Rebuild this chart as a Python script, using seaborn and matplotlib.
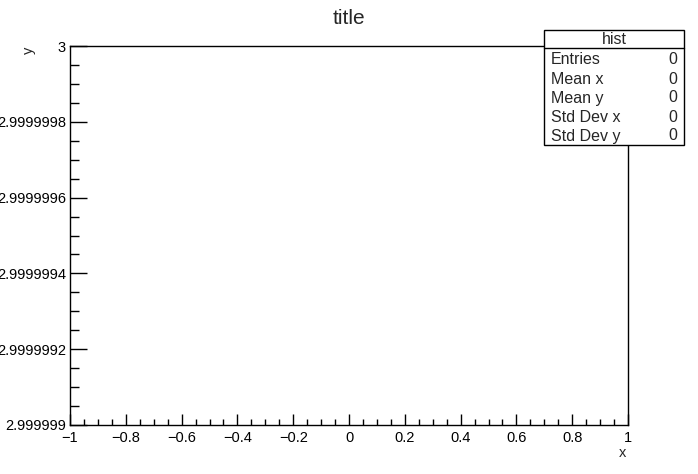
import matplotlib
matplotlib.use("Agg")
import matplotlib.pyplot as plt
import numpy as np
import pandas as pd
import seaborn as sns
from matplotlib.patches import Rectangle
from matplotlib.lines import Line2D
from matplotlib.ticker import FixedLocator, FixedFormatter, MultipleLocator

# empty histogram, as in the reference
x_values = []
y_values = []

x_range = (-1, 1)
x_major = [-1, -0.8, -0.6, -0.4, -0.2, 0, 0.2, 0.4, 0.6, 0.8, 1]
x_labels = ["\u22121", "\u22120.8", "\u22120.6", "\u22120.4", "\u22120.2", "0",
            "0.2", "0.4", "0.6", "0.8", "1"]

y_range = (2.999999, 3.0)
y_major = [2.999999, 2.9999992, 2.9999994, 2.9999996, 2.9999998, 3.0]
y_labels = ["2.999999", "2.9999992", "2.9999994", "2.9999996", "2.9999998", "3"]

stat_names = ["Entries", "Mean x", "Mean y", "Std Dev x", "Std Dev y"]
stat_values = ["0", "0", "0", "0", "0"]

sns.set_style("ticks")
plt.rcParams["font.family"] = ["Liberation Sans", "DejaVu Sans"]

W, H = 698, 474
px = 72 / 100  # pixels -> points

fig = plt.figure(figsize=(W / 100, H / 100), dpi=100)
ax = fig.add_axes([70 / W, 1 - 425 / H, 558 / W, 379 / H])

df = pd.DataFrame({"x": pd.Series(x_values, dtype=float),
                   "y": pd.Series(y_values, dtype=float)})
sns.histplot(data=df, x="x", ax=ax)

ax.set_xlim(*x_range)
ax.set_ylim(*y_range)

ax.xaxis.set_major_locator(FixedLocator(x_major))
ax.xaxis.set_major_formatter(FixedFormatter(x_labels))
ax.xaxis.set_minor_locator(MultipleLocator(0.05))
ax.yaxis.set_major_locator(FixedLocator(y_major))
ax.yaxis.set_major_formatter(FixedFormatter(y_labels))
ax.yaxis.set_minor_locator(FixedLocator(list(np.linspace(y_range[0], y_range[1], 21))))

ax.tick_params(axis="both", which="both", direction="in", color="black",
               labelsize=10.5, labelcolor="black", width=1)
ax.tick_params(axis="x", which="major", length=11 * px, pad=4.5)
ax.tick_params(axis="x", which="minor", length=6 * px)
ax.tick_params(axis="y", which="major", length=17 * px, pad=3)
ax.tick_params(axis="y", which="minor", length=9 * px)

for s in ax.spines.values():
    s.set_visible(True)
    s.set_color("black")
    s.set_linewidth(1)

ax.set_xlabel("")
ax.set_ylabel("")
fig.text(623 / W, 1 - 453 / H, "x", ha="center", va="center", fontsize=10.5)
fig.text(29 / W, 1 - 50 / H, "y", ha="center", va="center", fontsize=10.5, rotation=90)
fig.text(349 / W, 1 - 18 / H, "title", ha="center", va="center", fontsize=15)

# stats box
bx0, bx1, by0, by1 = 544, 684, 30, 145
fig.patches.append(Rectangle((bx0 / W, 1 - by1 / H), (bx1 - bx0) / W, (by1 - by0) / H,
                             transform=fig.transFigure, facecolor="white",
                             edgecolor="black", linewidth=1, zorder=5))
fig.lines.append(Line2D([bx0 / W, bx1 / W], [1 - 48 / H, 1 - 48 / H],
                        transform=fig.transFigure, color="black", linewidth=1, zorder=6))
fig.text((bx0 + bx1) / 2 / W, 1 - 40 / H, "hist", ha="center", va="center",
         fontsize=11.5, zorder=7)
for i, (n, v) in enumerate(zip(stat_names, stat_values)):
    yy = 1 - (60 + i * 19) / H
    fig.text(551 / W, yy, n, ha="left", va="center", fontsize=11.5, zorder=7)
    fig.text(677 / W, yy, v, ha="right", va="center", fontsize=11.5, zorder=7)

fig.savefig("out.png", dpi=100)
